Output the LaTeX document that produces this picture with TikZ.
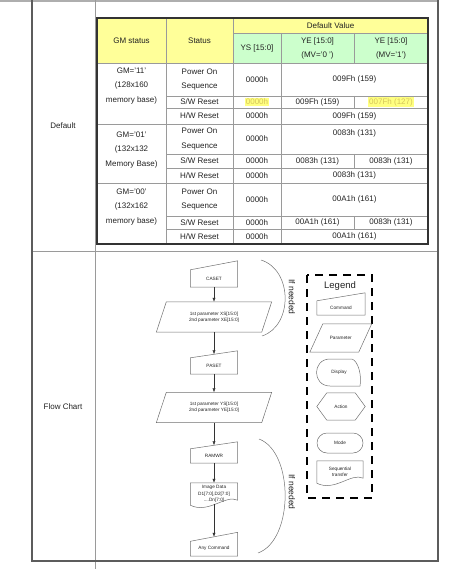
\documentclass[tikz,border=0pt]{standalone}
\usepackage{fontspec}
\setmainfont{Liberation Sans}
\usepackage{tikz}
\usetikzlibrary{arrows.meta}
\definecolor{HeadYellow}{HTML}{FFFF99}
\definecolor{HeadGreen}{HTML}{CCFFCC}
\definecolor{MarkYellow}{HTML}{FFFF80}
\definecolor{MarkText}{HTML}{D6C65A}
\definecolor{GridGray}{HTML}{9A9A9A}
\definecolor{FrameDark}{HTML}{333333}
\definecolor{CellText}{HTML}{222222}
\definecolor{ShapeGray}{HTML}{707070}

\begin{document}
\begin{tikzpicture}[x=1pt, y=-1pt,
  cell/.style={font=\fontsize{8}{14.5}\selectfont, text=CellText, align=center, inner sep=0pt},
  markcell/.style={cell, fill=MarkYellow, text=MarkText, inner xsep=1pt, inner ysep=1.5pt},
  grid/.style={draw=GridGray, line width=0.6pt},
  frame/.style={draw=FrameDark, line width=1.2pt},
  flowbox/.style={minimum width=47pt, inner sep=0pt, text=CellText,
                  font=\fontsize{4.7}{6.2}\selectfont, align=center},
  paramslant/.style={flowbox, minimum width=105pt, minimum height=30pt},
  outline/.style={draw=ShapeGray, line width=0.5pt},
  flowarrow/.style={-{Latex[length=4pt,width=3.2pt]}, draw=FrameDark, line width=0.5pt},
  brace/.style={draw=ShapeGray, line width=0.5pt},
  note/.style={font=\fontsize{8.5}{10}\selectfont, text=CellText, rotate=-90},
  legendbox/.style={draw=black, line width=1.8pt, dash pattern=on 8pt off 6pt}
]
  \useasboundingbox (0,0) rectangle (474,569);

  % outer table
  \draw[draw=GridGray!80, line width=2pt] (0,1) -- (438,1);
  \draw[grid] (95,0) -- (95,569);
  \draw[grid, line width=1pt] (32,251) -- (438,251);
  \draw[draw=FrameDark!80, line width=1.5pt] (32,0) -- (32,561) -- (438,561) -- (438,0);
  \node[cell] (deflabel)  at (63,126) {Default};
  \node[cell] (flowlabel) at (63,407) {Flow Chart};

  % default value table
  \fill[HeadYellow] (97,18) rectangle (233,63);
  \fill[HeadYellow] (233,18) rectangle (428,33);
  \fill[HeadGreen] (233,33) rectangle (428,63);
  \draw[grid] (233,33) -- (428,33);
  \draw[grid] (97,63) -- (428,63);
  \draw[grid] (166,96) -- (428,96) (166,108) -- (428,108);
  \draw[grid] (97,124) -- (428,124);
  \draw[grid] (166,154) -- (428,154) (166,168) -- (428,168);
  \draw[grid] (97,183) -- (428,183);
  \draw[grid] (166,216) -- (428,216) (166,229) -- (428,229);
  \draw[grid] (166,18) -- (166,244) (233,18) -- (233,244) (281,33) -- (281,244);
  \draw[grid] (354,33) -- (354,63) (354,96) -- (354,108) (354,154) -- (354,168) (354,216) -- (354,229);
  \draw[frame] (97,18) rectangle (428,244);

  \node[cell] (gmhead) at (131.5,40.5) {GM status};
  \node[cell] (sthead) at (199.5,40.5) {Status};
  \node[cell] (dvhead) at (330.5,25.5) {Default Value};
  \node[cell] (yshead) at (257,48) {YS [15:0]};
  \node[cell] (yezero) at (317.5,48.5) {YE [15:0]\\(MV='0 ')};
  \node[cell] (yeone)  at (391,48.5) {YE [15:0]\\(MV='1')};

  \node[cell] (gm11)    at (131.5,86) {GM='11'\\(128x160\\memory base)};
  \node[cell] (pon11)   at (199.5,79.5) {Power On\\Sequence};
  \node[cell] (ponys11) at (257,79.5) {0000h};
  \node[cell] (ponye11) at (354.5,79.5) {009Fh (159)};
  \node[cell] (sw11)    at (199.5,102) {S/W Reset};
  \node[markcell] (swys11)  at (257,102) {0000h};
  \node[cell] (swye11)  at (317.5,102) {009Fh (159)};
  \node[markcell] (swyf11)  at (391,102) {007Fh (127)};
  \node[cell] (hw11)    at (199.5,116) {H/W Reset};
  \node[cell] (hwys11)  at (257,116) {0000h};
  \node[cell] (hwye11)  at (354.5,116) {009Fh (159)};

  \node[cell] (gm01)    at (131.5,150) {GM='01'\\(132x132\\Memory Base)};
  \node[cell] (pon01)   at (199.5,139) {Power On\\Sequence};
  \node[cell] (ponys01) at (257,138.5) {0000h};
  \node[cell] (ponye01) at (354.5,133) {0083h (131)};
  \node[cell] (sw01)    at (199.5,161) {S/W Reset};
  \node[cell] (swys01)  at (257,161) {0000h};
  \node[cell] (swye01)  at (317.5,161) {0083h (131)};
  \node[cell] (swyf01)  at (391,161) {0083h (131)};
  \node[cell] (hw01)    at (199.5,175.5) {H/W Reset};
  \node[cell] (hwys01)  at (257,175.5) {0000h};
  \node[cell] (hwye01)  at (354.5,175.5) {0083h (131)};

  \node[cell] (gm00)    at (131.5,207) {GM='00'\\(132x162\\memory base)};
  \node[cell] (pon00)   at (199.5,199.5) {Power On\\Sequence};
  \node[cell] (ponys00) at (257,199.5) {0000h};
  \node[cell] (ponye00) at (354.5,199.5) {00A1h (161)};
  \node[cell] (sw00)    at (199.5,222.5) {S/W Reset};
  \node[cell] (swys00)  at (257,222.5) {0000h};
  \node[cell] (swye00)  at (317.5,222.5) {00A1h (161)};
  \node[cell] (swyf00)  at (391,222.5) {0083h (131)};
  \node[cell] (hw00)    at (199.5,236.5) {H/W Reset};
  \node[cell] (hwys00)  at (257,236.5) {0000h};
  \node[cell] (hwye00)  at (354.5,236.5) {00A1h (161)};

  % flow chart
  \node[flowbox, minimum height=17pt] (caset) at (214,278.5) {CASET};
  \node[paramslant] (xparam) at (214,317) {1st parameter XS[15:0]\\2nd parameter XE[15:0]};
  \node[flowbox, minimum height=16pt] (paset) at (214,366) {PASET};
  \node[paramslant] (yparam) at (214,407.5) {1st parameter YS[15:0]\\2nd parameter YE[15:0]};
  \node[flowbox, minimum height=14pt] (ramwr) at (214,456) {RAMWR};
  \node[flowbox, minimum height=22pt] (imgdata) at (214,494) {Image Data\\D1[7:0],D2[7:0]\\....Dn[7:0]};
  \node[flowbox, minimum height=14.5pt] (anycmd) at (214,548.75) {Any Command};

  \draw[outline] (caset.south west) -- (caset.south east) -- ([yshift=9pt]caset.north east) -- (caset.north west) -- cycle;
  \draw[outline] (paset.south west) -- (paset.south east) -- ([yshift=7pt]paset.north east) -- (paset.north west) -- cycle;
  \draw[outline] (ramwr.south west) -- (ramwr.south east) -- ([yshift=7pt]ramwr.north east) -- (ramwr.north west) -- cycle;
  \draw[outline] (anycmd.south west) -- (anycmd.south east) -- ([yshift=9pt]anycmd.north east) -- (anycmd.north west) -- cycle;
  \draw[outline] ([xshift=-5pt]xparam.south west) -- ([xshift=-5pt]xparam.south east) -- ([xshift=5pt]xparam.north east) -- ([xshift=5pt]xparam.north west) -- cycle;
  \draw[outline] ([xshift=-5pt]yparam.south west) -- ([xshift=-5pt]yparam.south east) -- ([xshift=5pt]yparam.north east) -- ([xshift=5pt]yparam.north west) -- cycle;
  \draw[outline] (imgdata.north west) -- (imgdata.north east) -- ([yshift=5pt]imgdata.south east)
    .. controls ([xshift=-12pt,yshift=11pt]imgdata.south east) and ([xshift=18pt,yshift=-9pt]imgdata.south west) .. (imgdata.south west) -- cycle;

  \draw[flowarrow] (caset) -- (xparam);
  \draw[flowarrow] (xparam) -- ([yshift=3.5pt]paset.north);
  \draw[flowarrow] (paset) -- (yparam);
  \draw[flowarrow] (yparam) -- ([yshift=3.5pt]ramwr.north);
  \draw[flowarrow] (ramwr) -- (imgdata);
  \draw[flowarrow] ([yshift=1.5pt]imgdata.south) -- ([yshift=4.5pt]anycmd.north);

  \draw[brace] (261,260) .. controls (293,270) and (293,326) .. (262,336);
  \draw[brace] (259,439) .. controls (294,452) and (294,540) .. (258,553);
  \node[note] (need1) at (292,297) {If needed};
  \node[note] (need2) at (292,492) {If needed};

  % legend
  \draw[legendbox] (307,275) rectangle (372,498);
  \node[font=\fontsize{9.5}{11}\selectfont, text=CellText] (legend) at (340,286) {Legend};
  \node[flowbox, minimum width=48pt, minimum height=14pt] (lcmd) at (341,308) {Command};
  \node[flowbox, minimum width=48.5pt, minimum height=28pt] (lparam) at (340.75,338) {Parameter};
  \node[flowbox, minimum width=44pt, minimum height=27pt] (ldisp) at (339,372.5) {Display};
  \node[flowbox, minimum width=48pt, minimum height=27pt] (laction) at (341,406.5) {Action};
  \node[flowbox, outline, rounded corners=10pt, minimum width=46pt, minimum height=20pt] (lmode) at (340,443) {Mode};
  \node[flowbox, minimum width=46pt, minimum height=22pt] (lseq) at (340,472) {Sequential\\transfer};

  \draw[outline] (lcmd.south west) -- (lcmd.south east) -- ([yshift=8pt]lcmd.north east) -- (lcmd.north west) -- cycle;
  \draw[outline] ([xshift=-6.5pt]lparam.south west) -- ([xshift=-6.5pt]lparam.south east) -- ([xshift=6.5pt]lparam.north east) -- ([xshift=6.5pt]lparam.north west) -- cycle;
  \draw[outline] (330,359) -- (352,359) .. controls (358,361) and (362,375) .. (360,386) -- (330,386) .. controls (312,386) and (312,359) .. (330,359) -- cycle;
  \draw[outline] (laction.west) -- ([xshift=10pt]laction.north west) -- ([xshift=-10pt]laction.north east) -- (laction.east) -- ([xshift=-10pt]laction.south east) -- ([xshift=10pt]laction.south west) -- cycle;
  \draw[outline] (lseq.north west) -- (lseq.north east) -- ([yshift=5pt]lseq.south east)
    .. controls ([xshift=-12pt,yshift=11pt]lseq.south east) and ([xshift=18pt,yshift=-9pt]lseq.south west) .. (lseq.south west) -- cycle;
\end{tikzpicture}
\end{document}
